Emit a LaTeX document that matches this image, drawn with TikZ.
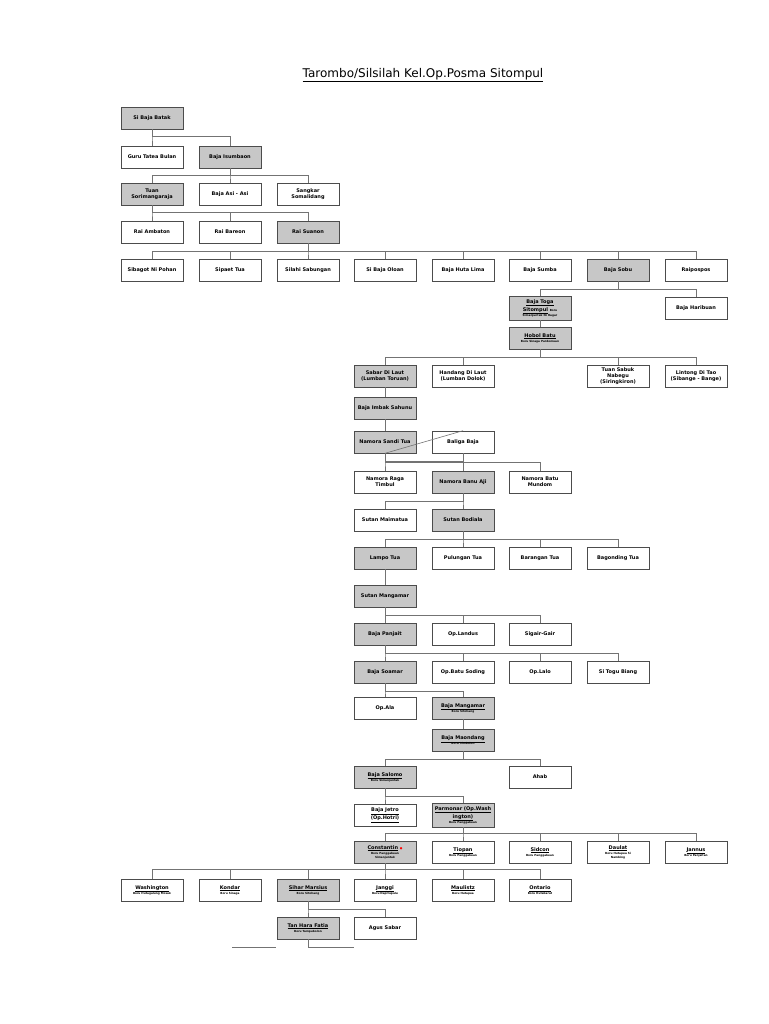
\documentclass[tikz,border=0pt]{standalone}
\usepackage{fontspec}
\setmainfont{DejaVu Sans}
\begin{document}
\begin{tikzpicture}[x=1pt,y=-1pt,
 bx/.style={draw=black!70,line width=0.6pt,fill=white,minimum width=62pt,minimum height=22pt,inner sep=1pt,align=center,font=\fontsize{5}{6}\selectfont\bfseries},
 gb/.style={bx,fill=black!22},
 ln/.style={draw=black!55,line width=0.6pt}]
\useasboundingbox (0,0) rectangle (768,1024);
\newcommand{\sub}[2]{\underline{#1}\\[-1pt]{\fontsize{2.8}{3}\selectfont #2}}
\node[font=\fontsize{12}{14}\selectfont] (title) at (423,75) {\underline{Tarombo/Silsilah Kel.Op.Posma Sitompul}};
% rows
\node[gb] (a1) at (152,118) {Si Baja Batak};
\node[bx] (b1) at (152,157) {Guru Tatea Bulan};
\node[gb] (b2) at (230,157) {Baja Isumbaon};
\node[gb] (c1) at (152,194) {Tuan\\Sorimangaraja};
\node[bx] (c2) at (230,194) {Baja Asi - Asi};
\node[bx] (c3) at (308,194) {Sangkar\\Somalidang};
\node[bx] (d1) at (152,232) {Rai Ambaton};
\node[bx] (d2) at (230,232) {Rai Bareon};
\node[gb] (d3) at (308,232) {Rai Suanon};
\node[bx] (e1) at (152,270) {Sibagot Ni Pohan};
\node[bx] (e2) at (230,270) {Sipaet Tua};
\node[bx] (e3) at (308,270) {Silahi Sabungan};
\node[bx] (e4) at (385,270) {Si Baja Oloan};
\node[bx] (e5) at (463,270) {Baja Huta Lima};
\node[bx] (e6) at (540,270) {Baja Sumba};
\node[gb] (e7) at (618,270) {Baja Sobu};
\node[bx] (e8) at (696,270) {Raipospos};
\node[gb,minimum height=24pt] (f6) at (540,308) {\underline{Baja Toga}\\\underline{Sitompul} {\fontsize{2.8}{3}\selectfont Boru}\\[-1pt]{\fontsize{2.8}{3}\selectfont Simanjuntak Ni Hagar}};
\node[bx] (f8) at (696,308) {Baja Haribuan};
\node[gb] (g6) at (540,338) {\sub{Hobol Batu}{Boru Sinaga Pardomuan}};
\node[gb] (h4) at (385,376) {Sabar Di Laut\\(Lumban Toruan)};
\node[bx] (h5) at (463,376) {Handang Di Laut\\(Lumban Dolok)};
\node[bx] (h7) at (618,376) {Tuan Sabuk\\Nabegu\\(Siringkiron)};
\node[bx] (h8) at (696,376) {Lintong Di Tao\\(Sibange - Bange)};
\node[gb] (i4) at (385,408) {Baja Imbak Sahunu};
\node[gb] (j4) at (385,442) {Namora Sandi Tua};
\node[bx] (j5) at (463,442) {Baliga Baja};
\node[bx] (k4) at (385,482) {Namora Raga\\Timbul};
\node[gb] (k5) at (463,482) {Namora Banu Aji};
\node[bx] (k6) at (540,482) {Namora Batu\\Mundom};
\node[bx] (l4) at (385,520) {Sutan Maimatua};
\node[gb] (l5) at (463,520) {Sutan Bodiala};
\node[gb] (m4) at (385,558) {Lampo Tua};
\node[bx] (m5) at (463,558) {Pulungan Tua};
\node[bx] (m6) at (540,558) {Barangan Tua};
\node[bx] (m7) at (618,558) {Bagonding Tua};
\node[gb] (n4) at (385,596) {Sutan Mangamar};
\node[gb] (o4) at (385,634) {Baja Panjait};
\node[bx] (o5) at (463,634) {Op.Landus};
\node[bx] (o6) at (540,634) {Sigair-Gair};
\node[gb] (p4) at (385,672) {Baja Soamar};
\node[bx] (p5) at (463,672) {Op.Batu Soding};
\node[bx] (p6) at (540,672) {Op.Lalo};
\node[bx] (p7) at (618,672) {Si Togu Biang};
\node[bx] (q4) at (385,708) {Op.Ala};
\node[gb] (q5) at (463,708) {\sub{Baja Mangamar}{Boru Sitohang}};
\node[gb] (r5) at (463,740) {\sub{Baja Maondang}{Boru Simbolon}};
\node[gb] (s4) at (385,777) {\sub{Baja Salomo}{Boru Simanjuntak}};
\node[bx] (s6) at (540,777) {Ahab};
\node[bx] (t4) at (385,815) {\underline{Baja Jetro}\\\underline{(Op.Hotri)}};
\node[gb,minimum height=24pt] (t5) at (463,815) {\underline{Parmonar (Op.Wash}\\\underline{ington)}\\[-1pt]{\fontsize{2.8}{3}\selectfont Boru Panggabean}};
\node[gb] (u4) at (385,852) {\underline{Constantin} {\color{red}\fontsize{3}{3}\selectfont ●}\\[-1pt]{\fontsize{2.8}{3}\selectfont Boru Panggabean}\\[-2pt]{\fontsize{2.8}{3}\selectfont Simanjuntak}};
\node[bx] (u5) at (463,852) {\sub{Tiopan}{Boru Panggabean}};
\node[bx] (u6) at (540,852) {\sub{Sidcon}{Boru Panggabean}};
\node[bx] (u7) at (618,852) {\underline{Daulat}\\[-1pt]{\fontsize{2.8}{3}\selectfont Boru Hutapea Si}\\[-2pt]{\fontsize{2.8}{3}\selectfont Nambing}};
\node[bx] (u8) at (696,852) {\sub{Jannus}{Boru Panjaitan}};
\node[bx] (v1) at (152,890) {\sub{Washington}{Boru Hutagalung Mosak}};
\node[bx] (v2) at (230,890) {\sub{Kondar}{Boru Sinaga}};
\node[gb] (v3) at (308,890) {\sub{Sihar Marsius}{Boru Sitohang}};
\node[bx] (v4) at (385,890) {\sub{Janggi}{Boru Napitupulu}};
\node[bx] (v5) at (463,890) {\sub{Maulistz}{Boru Hutapea}};
\node[bx] (v6) at (540,890) {\sub{Ontario}{Boru Hutabarat}};
\node[gb] (w3) at (308,928) {\sub{Tan Hara Fatia}{Boru Tampubolon}};
\node[bx] (w4) at (385,928) {Agus Sabar};
\coordinate (z1) at (232,947); \coordinate (z2) at (276,947);
\coordinate (z3) at (308,947); \coordinate (z4) at (354,947);
% connectors
\foreach \p/\d/\cs in {a1/7/{b1,b2}, b2/7/{c1,c2,c3}, c1/7/{d1,d2,d3}, d3/8/{e1,e2,e3,e4,e5,e6,e7,e8}, e7/8/{f6,f8}, g6/8/{h4,h5,h7,h8}, j4/9/{k4,k5,k6}, k5/8/{l4,l5}, l5/8/{m4,m5,m6,m7}, o4/8/{p4,p5,p6,p7}, p4/8/{q4,q5}, r5/8/{s4,s6}, s4/8/{t4,t5}, t5/6/{u4,u5,u6,u7,u8}, u4/6/{v1,v2,v3,v4,v5,v6}, v3/8/{w3,w4}}
 {\foreach \c in \cs {\draw[ln] (\p.south) -- ++(0,\d) -| (\c.north);}}
\foreach \p/\c in {f6/g6, h4/i4, i4/j4, j4/j5, m4/n4, n4/o4, q5/r5}
 {\draw[ln] (\p.south) -- (\c.north);}
\draw[ln] (j4.south) -- ++(0,8) -| (j5.south);
\draw[ln] (n4.south) -- ++(0,8) -| (o5.north);
\draw[ln] (n4.south) -- ++(0,8) -| (o6.north);
\draw[ln] (w3.south) -- (z3) -- (z4);
\draw[ln] (z1) -- (z2);
\end{tikzpicture}
\end{document}
